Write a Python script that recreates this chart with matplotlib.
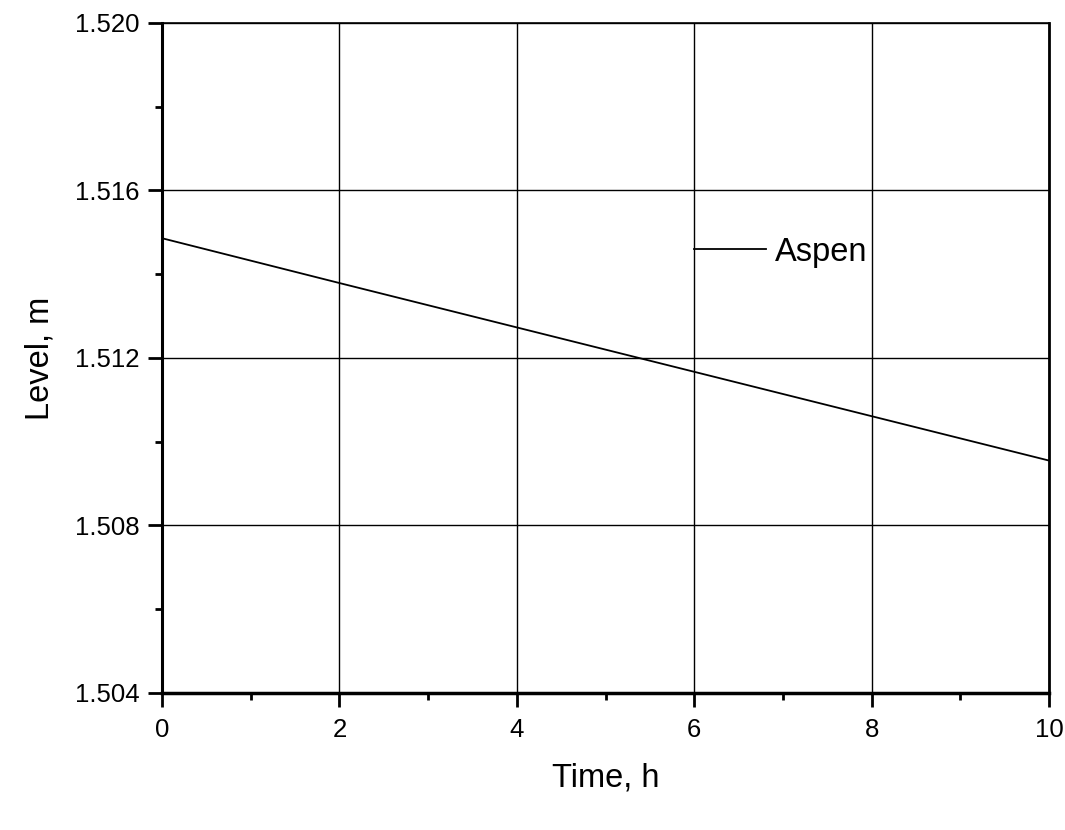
import matplotlib
matplotlib.use("Agg")
import matplotlib.pyplot as plt
from matplotlib.ticker import MultipleLocator, FormatStrFormatter

plt.rcParams['font.family'] = ['Liberation Sans', 'DejaVu Sans']

time_h = [0, 2, 4, 6, 8, 10]
level_m = [1.51486, 1.51379, 1.51273, 1.51167, 1.51061, 1.50955]
series_name = "Aspen"

fig = plt.figure(figsize=(10.65, 8.3), dpi=100)
ax = fig.add_axes([0.1521, 0.1651, 0.985 - 0.1521, 0.9723 - 0.1651])

ax.plot(time_h, level_m, color='black', lw=1.3, label=series_name)

ax.set_xlim(0, 10)
ax.set_ylim(1.504, 1.520)
ax.xaxis.set_major_locator(MultipleLocator(2))
ax.xaxis.set_minor_locator(MultipleLocator(1))
ax.yaxis.set_major_locator(MultipleLocator(0.004))
ax.yaxis.set_minor_locator(MultipleLocator(0.002))
ax.yaxis.set_major_formatter(FormatStrFormatter('%.3f'))

ax.grid(True, which='major', color='black', lw=1.0)
ax.set_axisbelow(True)

for side, w in (('left', 2.2), ('bottom', 2.5), ('right', 2.0), ('top', 1.2)):
    ax.spines[side].set_linewidth(w)
    ax.spines[side].set_color('black')

ax.tick_params(which='major', direction='out', length=10, width=2, labelsize=18.5, pad=6,
               top=False, right=False)
ax.tick_params(axis='x', which='major', pad=8)
ax.tick_params(which='minor', direction='out', length=5, width=2, top=False, right=False)

ax.set_xlabel("Time, h", fontsize=23.5, labelpad=15)
ax.set_ylabel("Level, m", fontsize=23.5, labelpad=14)

ax.legend(loc='center left', bbox_to_anchor=(0.6, 0.658), frameon=False, fontsize=23.5,
          borderpad=0, borderaxespad=0, handlelength=2.2, handletextpad=0.27)

fig.savefig("out.png", dpi=100, facecolor='white')
